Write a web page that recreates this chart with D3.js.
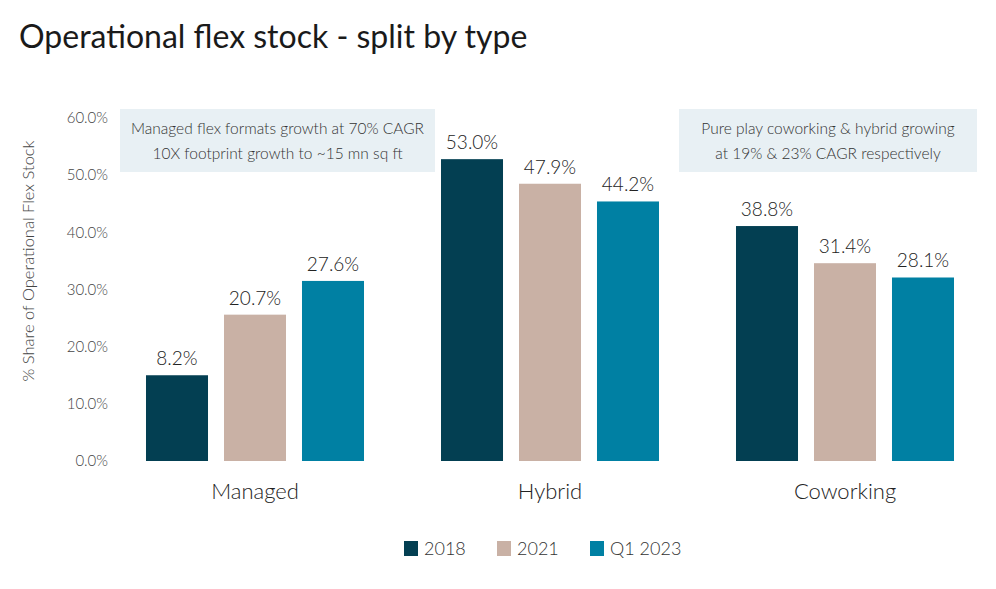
<!DOCTYPE html>
<html>
<head>
<meta charset="utf-8">
<script src="https://cdn.jsdelivr.net/npm/d3@7"></script>
<style>
  body { margin: 0; background: #fff; }
  svg { font-family: Lato, "Open Sans", sans-serif; }
</style>
</head>
<body>
<svg id="chart" width="996" height="589"></svg>
<script>
// chart data
var categories = ['Managed', 'Hybrid', 'Coworking'];
var seriesNames = ['2018', '2021', 'Q1 2023'];
// bar heights as drawn against the axis
var bars2018 = [15.0, 52.8, 41.1];
var bars2021 = [25.6, 48.5, 34.6];
var barsQ1 = [31.5, 45.4, 32.1];
// printed value labels
var labels2018 = ['8.2%', '53.0%', '38.8%'];
var labels2021 = ['20.7%', '47.9%', '31.4%'];
var labelsQ1 = ['27.6%', '44.2%', '28.1%'];
var yTicks = [0, 10, 20, 30, 40, 50, 60];
var notes = [
  ['Managed flex formats growth at 70% CAGR', '10X footprint growth to ~15 mn sq ft'],
  ['Pure play coworking & hybrid growing', 'at 19% & 23% CAGR respectively']
];

var colors = d3.scaleOrdinal().domain(seriesNames).range(['#033f52', '#c9b1a5', '#0080a3']);
var allBars = [bars2018, bars2021, barsQ1];
var allLabels = [labels2018, labels2021, labelsQ1];

var svg = d3.select('#chart');

var x0 = d3.scaleBand().domain(categories).range([107.5, 992.5])
  .paddingInner(0.261).paddingOuter(0.1305);
var x1 = d3.scaleBand().domain(seriesNames).range([0, x0.bandwidth()])
  .paddingInner(0.205);
var y = d3.scaleLinear().domain([0, 60]).range([461, 118]);

// title
svg.append('text')
  .attr('x', 19).attr('y', 48)
  .attr('fill', '#1a1a1a')
  .style('font-size', '32px')
  .text('Operational flex stock - split by type');

// y axis (labels only)
var yAxis = d3.axisLeft(y).tickValues(yTicks)
  .tickFormat(function(d){ return d3.format('.1f')(d) + '%'; })
  .tickSize(0).tickPadding(0);

svg.append('g')
  .attr('transform', 'translate(108,0)')
  .call(yAxis)
  .call(function(g){ g.select('.domain').remove(); })
  .selectAll('text')
    .attr('fill', '#444')
    .style('font-family', 'Lato, sans-serif')
    .style('font-weight', 300)
    .style('font-size', '15px');

svg.append('text')
  .attr('transform', 'translate(34,261) rotate(-90)')
  .attr('text-anchor', 'middle')
  .attr('fill', '#444')
  .style('font-weight', 300)
  .style('font-size', '16.5px')
  .text('% Share of Operational Flex Stock');

// note boxes
var noteBoxes = [
  { x: 120, w: 315 },
  { x: 679, w: 298 }
];
noteBoxes.forEach(function(b, i){
  svg.append('rect')
    .attr('x', b.x).attr('y', 109)
    .attr('width', b.w).attr('height', 63)
    .attr('fill', '#e8f0f4');
  svg.selectAll(null)
    .data(notes[i])
    .enter().append('text')
      .attr('x', b.x + b.w / 2)
      .attr('y', function(d, j){ return 134 + j * 25; })
      .attr('text-anchor', 'middle')
      .attr('fill', '#333')
      .style('font-weight', 300)
      .style('font-size', '15.5px')
      .text(function(d){ return d; });
});

// bars
var groups = svg.selectAll('g.group')
  .data(categories)
  .enter().append('g')
    .attr('class', 'group')
    .attr('transform', function(d){ return 'translate(' + x0(d) + ',0)'; });

function rowsFor(d, i){
  return seriesNames.map(function(s, k){
    return { series: s, value: allBars[k][i], label: allLabels[k][i] };
  });
}

groups.selectAll('rect')
  .data(rowsFor)
  .enter().append('rect')
    .attr('x', function(d){ return x1(d.series); })
    .attr('y', function(d){ return y(d.value); })
    .attr('width', x1.bandwidth())
    .attr('height', function(d){ return y(0) - y(d.value); })
    .attr('fill', function(d){ return colors(d.series); });

groups.selectAll('text.value')
  .data(rowsFor)
  .enter().append('text')
    .attr('class', 'value')
    .attr('x', function(d){ return x1(d.series) + x1.bandwidth() / 2; })
    .attr('y', function(d){ return y(d.value) - 10; })
    .attr('text-anchor', 'middle')
    .attr('fill', '#222')
    .style('font-weight', 300)
    .style('font-size', '19px')
    .text(function(d){ return d.label; });

// category labels
var xAxis = d3.axisBottom(x0).tickSize(0).tickPadding(0);
svg.append('g')
  .attr('transform', 'translate(0,483)')
  .call(xAxis)
  .call(function(g){ g.select('.domain').remove(); })
  .selectAll('text')
    .attr('fill', '#222')
    .style('font-family', 'Lato, sans-serif')
    .style('font-weight', 300)
    .style('font-size', '22px');

// legend
var legendX = [404, 497, 590];
var legend = svg.selectAll('g.legend')
  .data(seriesNames)
  .enter().append('g')
    .attr('class', 'legend')
    .attr('transform', function(d, i){ return 'translate(' + legendX[i] + ',541)'; });

legend.append('rect')
  .attr('width', 14).attr('height', 15)
  .attr('fill', function(d){ return colors(d); });

legend.append('text')
  .attr('x', 20).attr('y', 14)
  .attr('fill', '#333')
  .style('font-weight', 300)
  .style('font-size', '18px')
  .text(function(d){ return d; });
</script>
</body>
</html>
